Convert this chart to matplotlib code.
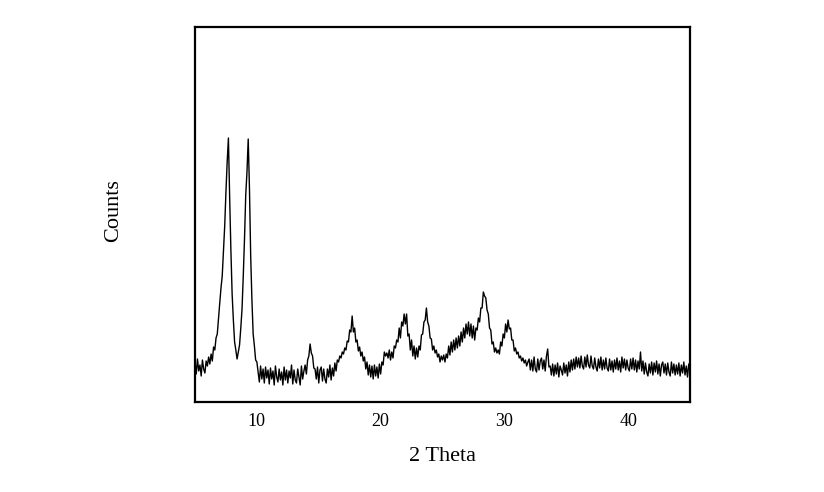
import numpy as np
import matplotlib
matplotlib.use("Agg")
import matplotlib.pyplot as plt

# Diffraction angle grid: 5.0 .. 45.0 degrees, 0.1 degree step
theta_start = 5.0
theta_step = 0.1

# Counts (arbitrary units), one row per degree (x.0 .. x.9)
counts_05_09 = [
    40, 28, 43, 31, 37, 26, 42, 33, 29, 41,
    36, 45, 38, 48, 41, 55, 52, 64, 68, 84,
    99, 114, 126, 152, 176, 210, 240, 264, 205, 152,
    108, 82, 60, 52, 43, 50, 57, 74, 93, 126,
    163, 207, 230, 263, 214, 146, 102, 68, 56, 42,
]
counts_10_14 = [
    40, 30, 20, 36, 23, 33, 19, 35, 24, 32,
    18, 34, 23, 31, 17, 36, 25, 20, 33, 22,
    30, 17, 35, 22, 32, 19, 31, 24, 37, 18,
    32, 22, 19, 33, 25, 17, 36, 23, 31, 37,
    28, 42, 46, 58, 49, 46, 34, 33, 23, 35,
]
counts_15_19 = [
    19, 32, 35, 21, 33, 23, 19, 33, 25, 37,
    22, 34, 26, 39, 31, 42, 40, 46, 44, 50,
    48, 54, 52, 61, 60, 72, 70, 86, 70, 74,
    60, 62, 51, 55, 46, 50, 41, 45, 33, 40,
    27, 37, 25, 36, 23, 37, 26, 35, 24, 38,
]
counts_20_24 = [
    28, 40, 37, 50, 46, 49, 44, 52, 42, 50,
    44, 56, 54, 62, 60, 74, 64, 80, 76, 88,
    78, 88, 66, 68, 52, 62, 46, 56, 43, 54,
    45, 56, 52, 67, 68, 80, 82, 94, 80, 76,
    64, 63, 52, 56, 49, 52, 45, 48, 40, 46,
]
counts_25_29 = [
    42, 47, 40, 48, 44, 56, 47, 60, 50, 62,
    52, 64, 54, 66, 56, 70, 60, 74, 64, 78,
    68, 80, 66, 78, 64, 76, 62, 74, 72, 84,
    80, 94, 94, 110, 106, 104, 92, 88, 74, 72,
    58, 60, 50, 54, 49, 52, 48, 60, 56, 68,
]
counts_30_34 = [
    64, 78, 70, 82, 73, 74, 62, 62, 51, 54,
    48, 50, 44, 46, 41, 44, 39, 42, 36, 40,
    43, 32, 42, 31, 45, 33, 30, 43, 32, 41,
    44, 33, 42, 31, 46, 53, 35, 36, 27, 38,
    26, 37, 28, 39, 25, 36, 32, 27, 39, 29,
]
counts_35_39 = [
    37, 26, 40, 30, 42, 32, 43, 33, 45, 35,
    44, 34, 46, 36, 33, 45, 35, 47, 37, 34,
    46, 36, 33, 44, 35, 31, 43, 34, 45, 32,
    42, 33, 44, 34, 31, 43, 32, 41, 30, 42,
    33, 44, 32, 41, 30, 45, 34, 43, 32, 42,
]
counts_40_45 = [
    34, 31, 43, 33, 44, 32, 42, 30, 41, 33,
    50, 31, 41, 28, 39, 30, 26, 38, 29, 40,
    27, 39, 30, 41, 28, 38, 26, 37, 40, 29,
    38, 27, 39, 30, 26, 40, 29, 38, 27, 37,
    28, 39, 26, 37, 29, 40, 27, 36, 25, 38,
    32,
]

x_ticks = [10, 20, 30, 40]
x_label = "2 Theta"
y_label = "Counts"

counts = np.array(counts_05_09 + counts_10_14 + counts_15_19 + counts_20_24
                  + counts_25_29 + counts_30_34 + counts_35_39 + counts_40_45, dtype=float)
two_theta = theta_start + theta_step * np.arange(len(counts))

plt.rcParams['font.family'] = ['Liberation Serif', 'DejaVu Serif']

fig = plt.figure(figsize=(8.24, 4.92), dpi=100)
ax = fig.add_axes([195/824, 90/492, 495/824, 375/492])
ax.plot(two_theta, counts, color='black', linewidth=1.0)

ax.set_xlim(5, 45)
ax.set_ylim(0, 375)
ax.set_xticks(x_ticks)
ax.set_yticks([])
ax.tick_params(axis='x', length=0, pad=8, labelsize=13)
for s in ax.spines.values():
    s.set_linewidth(1.6)
    s.set_color('black')

ax.set_xlabel(x_label, fontsize=16)
ax.xaxis.set_label_coords(0.5, -0.12)
ax.set_ylabel(y_label, fontsize=16)
ax.yaxis.set_label_coords(-0.145, 0.51)

fig.savefig("out.png", dpi=100)
